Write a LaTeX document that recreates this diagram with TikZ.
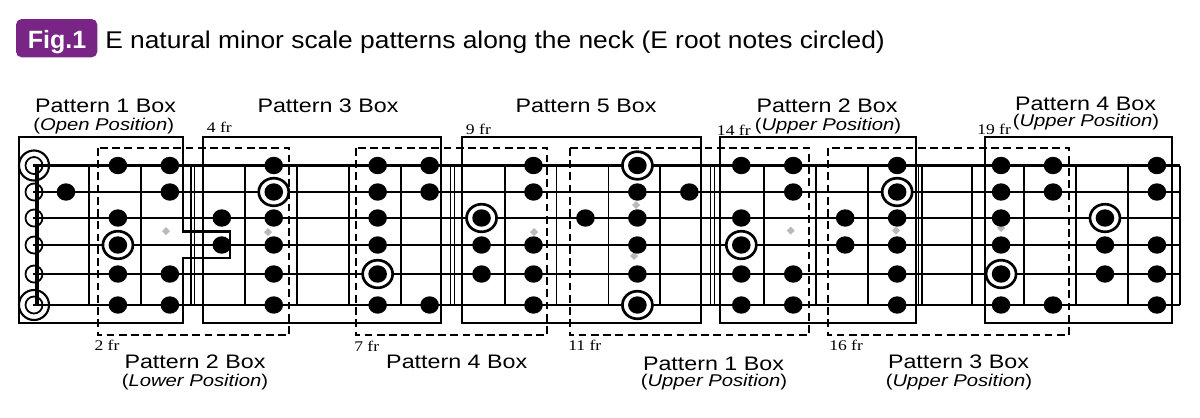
\documentclass[tikz,border=0pt]{standalone}
\usepackage{fontspec}
\usepackage{tikz}
\setmainfont{Liberation Sans}[FakeStretch=1.19]
\newfontfamily\frfont{Liberation Serif}[FakeStretch=1.19]
\newfontfamily\titlefont{Liberation Sans}[FakeStretch=1.09]
\newfontfamily\figfont{Liberation Sans}
\definecolor{figpurple}{RGB}{120,37,134}

\begin{document}
\begin{tikzpicture}[x=0.025cm, y=-0.025cm,
  strg/.style={line width=1.45pt},
  fretw/.style={line width=1.35pt},
  solidbox/.style={line width=1.45pt},
  dashbox/.style={line width=1.45pt, dash pattern=on 5.5pt off 3.2pt},
  boxlbl/.style={anchor=base, inner sep=0pt, font=\fontsize{13.9}{16}\selectfont},
  sublbl/.style={anchor=base, inner sep=0pt, font=\fontsize{12.1}{14}\selectfont},
  frlbl/.style={anchor=base west, inner sep=0pt, font=\frfont\fontsize{10.5}{12}\selectfont},
  rootring/.style={line width=1.9pt, fill=white}]
  \useasboundingbox (0,0) rectangle (1200,417);

  \fill[figpurple, rounded corners=4pt] (16,19) rectangle (97.3,57.3);
  \node[anchor=base, inner sep=0pt, text=white, font=\figfont\bfseries\fontsize{17.8}{20}\selectfont] (fig) at (57,48.3) {Fig.1};
  \node[anchor=base west, inner sep=0pt, font=\titlefont\fontsize{17.2}{20}\selectfont] (title) at (105,48.3) {E natural minor scale patterns along the neck (E root notes circled)};

  \foreach \yy in {165.5,192,218,245,274}
    \draw[strg] (33,\yy) -- (1180,\yy);
  \draw[strg, line width=2pt] (33,305) -- (1180,305);
  \foreach \n in {1,2,4,5,6,7,9,10,11,12,14,15,16,18,19,20,21,22}
    \draw[fretw] (37+51.95*\n,165.5) -- (37+51.95*\n,305);
  \foreach \n in {3,8,13,17}
    \foreach \d in {-1.9,1.9}
      \draw[fretw, line width=1.05pt] (37+51.95*\n+\d,165.5) -- (37+51.95*\n+\d,305);
  \draw[line width=3pt] (37,165.5) -- (37,305);

  \foreach \yy in {165.5,192,218,245,274,305}
    \draw[line width=1.25pt] (34,\yy) circle (8.5);
  \foreach \yy in {165.5,305}
    \draw[line width=1.5pt] (34,\yy) circle (15);

  \draw[solidbox] (183,258) -- (183,323) -- (19,323) -- (19,137) -- (183,137) -- (183,231.5) -- (230,231.5) -- (230,258) -- cycle;
  \draw[solidbox] (203,137) rectangle (441,323);
  \draw[solidbox] (462,137) rectangle (701,323);
  \draw[solidbox] (720,137) rectangle (916,323);
  \draw[solidbox] (985,137) rectangle (1172,323);
  \draw[dashbox] (98,148) rectangle (289,335);
  \draw[dashbox] (356,148) rectangle (547,335);
  \draw[dashbox] (570,148) rectangle (809,335);
  \draw[dashbox] (828,148) rectangle (1069,335);

  \foreach \dx/\dy in {166/231, 268/232, 534/232, 636/205, 634/256, 790.7/230.7, 896/230.7, 1001/228}
    \fill[gray!55] (\dx,\dy) +(-4,0) -- +(0,-4) -- +(4,0) -- +(0,4) -- cycle;

  \foreach \f/\yy in {12/165.5, 5/192, 17/192, 9/218, 21/218, 2/245, 14/245, 7/274, 19/274, 12/305}
    \draw[rootring] (14+51.95*\f,\yy) ellipse [x radius=15, y radius=13.8];
  \foreach \yy/\frs in {165.5/{2,3,5,7,8,10,12,14,15,17,19,20,22},
                        192/{1,3,5,7,8,10,12,13,15,17,19,20,22},
                        218/{2,4,5,7,9,11,12,14,16,17,19,21},
                        245/{2,4,5,7,9,10,12,14,16,17,19,21,22},
                        274/{2,3,5,7,9,10,12,14,15,17,19,21,22},
                        305/{2,3,5,7,8,10,12,14,15,17,19,20,22}}
    \foreach \f in \frs
      \fill (14+51.95*\f,\yy) ellipse [x radius=9.3, y radius=8.7];

  \node[boxlbl] (p1top) at (105.5,112) {Pattern 1 Box};
  \node[sublbl] (p1sub) at (103.7,130) {(\textit{Open Position})};
  \node[frlbl] (fr4) at (206.7,132) {4 fr};
  \node[boxlbl] (p3top) at (328,112) {Pattern 3 Box};
  \node[frlbl] (fr9) at (465.7,134) {9 fr};
  \node[boxlbl] (p5top) at (586,112) {Pattern 5 Box};
  \node[frlbl] (fr14) at (716.7,135) {14 fr};
  \node[boxlbl] (p2top) at (827,112) {Pattern 2 Box};
  \node[sublbl] (p2sub) at (828,130) {(\textit{Upper Position})};
  \node[frlbl] (fr19) at (977,134) {19 fr};
  \node[boxlbl] (p4top) at (1085.5,110) {Pattern 4 Box};
  \node[sublbl] (p4sub) at (1086,126) {(\textit{Upper Position})};

  \node[frlbl] (fr2) at (94.3,350) {2 fr};
  \node[boxlbl] (p2bot) at (195,368.3) {Pattern 2 Box};
  \node[sublbl] (p2botsub) at (195,386.5) {(\textit{Lower Position})};
  \node[frlbl] (fr7) at (354,351) {7 fr};
  \node[boxlbl] (p4bot) at (456.7,368.3) {Pattern 4 Box};
  \node[frlbl] (fr11) at (568,350) {11 fr};
  \node[boxlbl] (p1bot) at (713.5,370.5) {Pattern 1 Box};
  \node[sublbl] (p1botsub) at (714,386.7) {(\textit{Upper Position})};
  \node[frlbl] (fr16) at (829,350) {16 fr};
  \node[boxlbl] (p3bot) at (958.5,368.3) {Pattern 3 Box};
  \node[sublbl] (p3botsub) at (959,386.7) {(\textit{Upper Position})};
\end{tikzpicture}
\end{document}
